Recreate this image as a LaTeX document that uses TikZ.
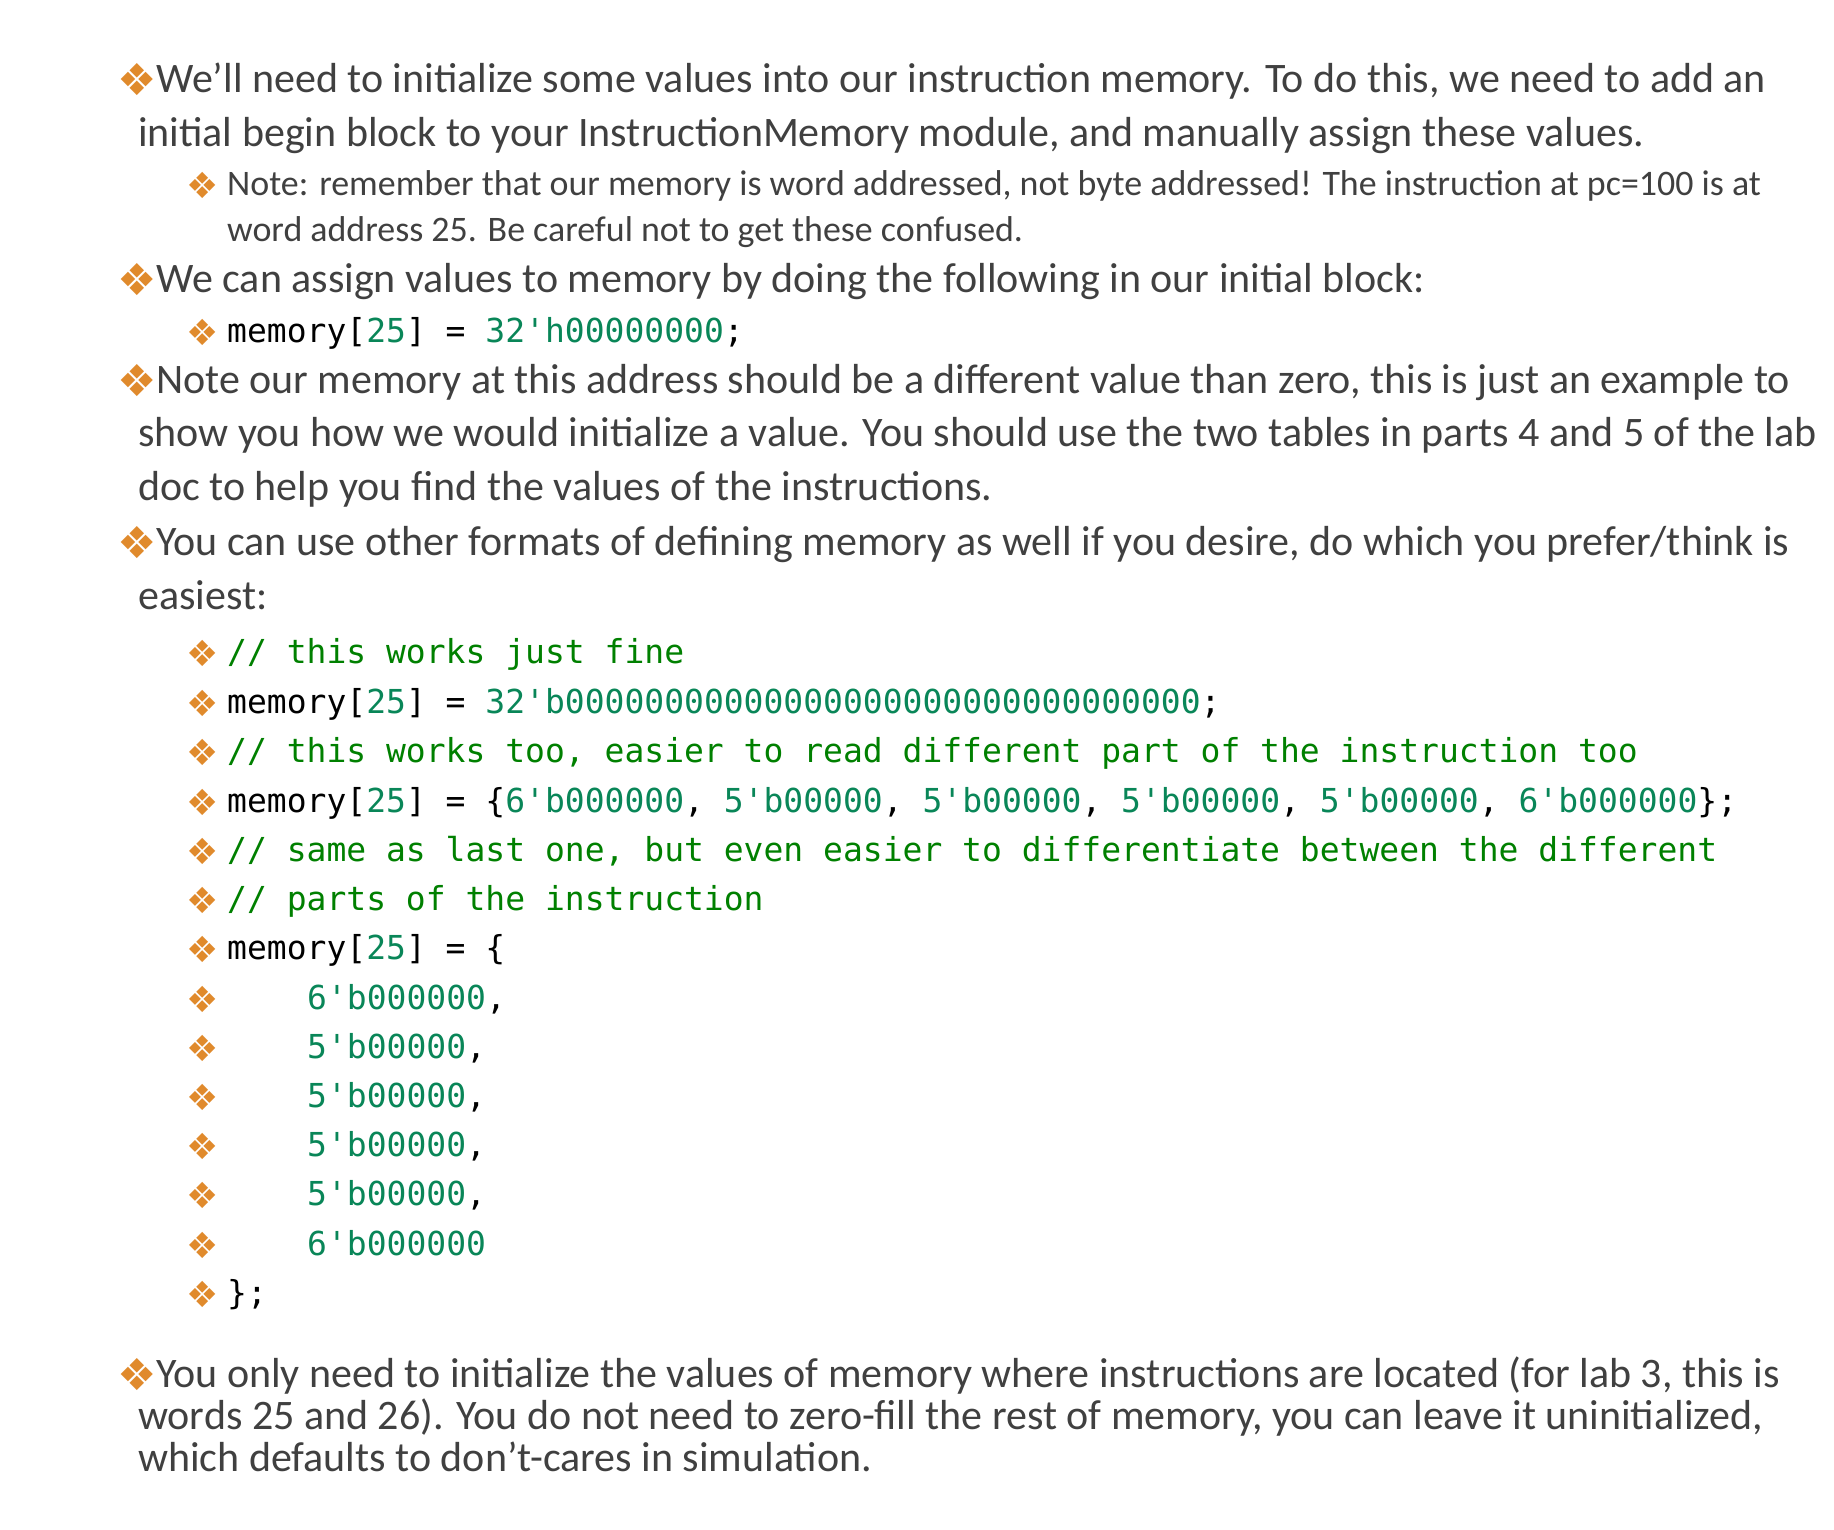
\documentclass[tikz,border=0pt]{standalone}
\usepackage{fontspec}
\setmainfont{Carlito}
\newfontfamily\codef{DejaVu Sans Mono}
\newfontfamily\symf{DejaVu Sans}
\definecolor{txtgray}{HTML}{404040}
\definecolor{bulor}{HTML}{E08A2C}
\definecolor{cmtgreen}{HTML}{008000}
\definecolor{numteal}{HTML}{098658}
\begin{document}
\begin{tikzpicture}[x=1pt,y=-1pt,
  big/.style={anchor=mid west,inner sep=0pt,text=txtgray,font=\fontsize{42}{46}\selectfont},
  small/.style={anchor=mid west,inner sep=0pt,text=txtgray,font=\fontsize{35.9}{38}\selectfont},
  cd/.style={anchor=mid west,inner sep=0pt,text=black,font=\codef\fontsize{33}{36}\selectfont},
  bb/.style={anchor=center,inner sep=0pt,text=bulor,font=\symf\fontsize{44}{48}\selectfont},
  sb/.style={anchor=center,inner sep=0pt,text=bulor,font=\symf\fontsize{36}{40}\selectfont}]
\useasboundingbox[fill=white] (0,0) rectangle (1834,1530);
\newcommand{\cm}[1]{\textcolor{cmtgreen}{#1}}
\newcommand{\nm}[1]{\textcolor{numteal}{#1}}
% paragraph 1
\node[bb] (b1) at (137,80) {❖};
\node[big] (t1) at (156,90) {We’ll need to initialize some values into our instruction memory. To do this, we need to add an};
\node[big] (t1b) at (138,144) {initial begin block to your InstructionMemory module, and manually assign these values.};
\node[sb] (b1s) at (203,185) {❖};
\node[small] (t1s) at (227,193) {Note: remember that our memory is word addressed, not byte addressed! The instruction at pc=100 is at};
\node[small] (t1sb) at (227,239) {word address 25. Be careful not to get these confused.};
% paragraph 2
\node[bb] (b2) at (137,280) {❖};
\node[big] (t2) at (156,290) {We can assign values to memory by doing the following in our initial block:};
\node[sb] (b2s) at (203,332) {❖};
\node[cd] (c0) at (227,340) {memory[\nm{25}] = \nm{32'h00000000};};
% paragraph 3
\node[bb] (b3) at (137,381) {❖};
\node[big] (t3) at (156,391) {Note our memory at this address should be a different value than zero, this is just an example to};
\node[big] (t3b) at (138,444) {show you how we would initialize a value. You should use the two tables in parts 4 and 5 of the lab};
\node[big] (t3c) at (138,498) {doc to help you find the values of the instructions.};
% paragraph 4
\node[bb] (b4) at (137,543) {❖};
\node[big] (t4) at (156,553) {You can use other formats of defining memory as well if you desire, do which you prefer/think is};
\node[big] (t4b) at (138,607) {easiest:};
\foreach \yy/\nn in {653/1,703/2,752/3,802/4,851/5,900/6,949/7,999/8,1048/9,1097/10,1146/11,1195/12,1245/13,1294/14}
  \node[sb] (cb\nn) at (203,\yy) {❖};
\node[cd] (c1) at (227,661) {\cm{// this works just fine}};
\node[cd] (c2) at (227,711) {memory[\nm{25}] = \nm{32'b00000000000000000000000000000000};};
\node[cd] (c3) at (227,760) {\cm{// this works too, easier to read different part of the instruction too}};
\node[cd] (c4) at (227,810) {memory[\nm{25}] = \{\nm{6'b000000}, \nm{5'b00000}, \nm{5'b00000}, \nm{5'b00000}, \nm{5'b00000}, \nm{6'b000000}\};};
\node[cd] (c5) at (227,859) {\cm{// same as last one, but even easier to differentiate between the different}};
\node[cd] (c6) at (227,908) {\cm{// parts of the instruction}};
\node[cd] (c7) at (227,957) {memory[\nm{25}] = \{};
\node[cd] (c8) at (307,1007) {\nm{6'b000000},};
\node[cd] (c9) at (307,1056) {\nm{5'b00000},};
\node[cd] (c10) at (307,1105) {\nm{5'b00000},};
\node[cd] (c11) at (307,1154) {\nm{5'b00000},};
\node[cd] (c12) at (307,1203) {\nm{5'b00000},};
\node[cd] (c13) at (307,1253) {\nm{6'b000000}};
\node[cd] (c14) at (227,1302) {\};};
% paragraph 5
\node[bb] (b5) at (137,1375) {❖};
\node[big] (t5) at (156,1385) {You only need to initialize the values of memory where instructions are located (for lab 3, this is};
\node[big] (t5b) at (138,1427) {words 25 and 26). You do not need to zero-fill the rest of memory, you can leave it uninitialized,};
\node[big] (t5c) at (138,1469) {which defaults to don’t-cares in simulation.};
\end{tikzpicture}
\end{document}
